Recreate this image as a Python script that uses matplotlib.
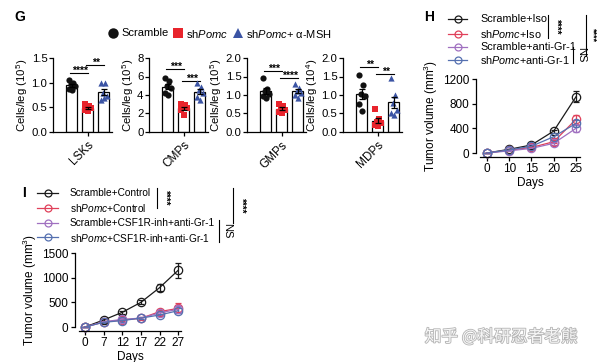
import matplotlib
matplotlib.use('Agg')
import matplotlib.pyplot as plt
import numpy as np
import matplotlib.patheffects as pe

plt.rcParams['font.family'] = ['Liberation Sans', 'DejaVu Sans']
plt.rcParams['mathtext.fontset'] = 'custom'
plt.rcParams['mathtext.rm'] = 'Liberation Sans'
plt.rcParams['mathtext.it'] = 'Liberation Sans:italic'
plt.rcParams['mathtext.bf'] = 'Liberation Sans:bold'
plt.rcParams['axes.linewidth'] = 0.9
plt.rcParams['xtick.major.width'] = 0.9
plt.rcParams['ytick.major.width'] = 0.9
plt.rcParams['xtick.major.size'] = 3
plt.rcParams['ytick.major.size'] = 3

# ---------------- data ----------------
g_groups = ['Scramble', 'sh$\\mathit{Pomc}$', 'sh$\\mathit{Pomc}$+ α-MSH']
g_colors = ['#111111', '#e8242c', '#3b54a4']
g_markers = ['o', 's', '^']

populations = ['LSKs', 'CMPs', 'GMPs', 'MDPs']
units = ['5', '5', '5', '4']
ymaxes = [1.5, 8, 2.0, 2.0]
yticks = [[0, 0.5, 1.0, 1.5], [0, 2, 4, 6, 8], [0, 0.5, 1.0, 1.5, 2.0], [0, 0.5, 1.0, 1.5, 2.0]]
ytick_labels = [['0.0', '0.5', '1.0', '1.5'], ['0', '2', '4', '6', '8'],
                ['0.0', '0.5', '1.0', '1.5', '2.0'], ['0.0', '0.5', '1.0', '1.5', '2.0']]

lsk_scramble = [1.05, 1.00, 0.98, 0.93, 0.87, 0.85]
lsk_shpomc = [0.56, 0.53, 0.50, 0.48, 0.45, 0.42]
lsk_msh = [1.00, 1.00, 0.80, 0.72, 0.65, 0.68]
cmp_scramble = [5.8, 5.5, 5.0, 4.8, 4.2, 4.0]
cmp_shpomc = [3.0, 2.9, 2.7, 2.6, 2.4, 1.8]
cmp_msh = [5.3, 4.9, 4.5, 4.2, 3.8, 3.5]
gmp_scramble = [1.47, 1.15, 1.10, 1.03, 0.98, 0.92]
gmp_shpomc = [0.75, 0.70, 0.66, 0.60, 0.55, 0.50]
gmp_msh = [1.30, 1.20, 1.12, 1.05, 1.00, 0.92]
mdp_scramble = [1.55, 1.28, 1.02, 0.98, 0.75, 0.58]
mdp_shpomc = [0.62, 0.35, 0.28, 0.25, 0.20, 0.15]
mdp_msh = [1.45, 1.00, 0.78, 0.60, 0.50, 0.47]

bar_data = [[lsk_scramble, lsk_shpomc, lsk_msh],
            [cmp_scramble, cmp_shpomc, cmp_msh],
            [gmp_scramble, gmp_shpomc, gmp_msh],
            [mdp_scramble, mdp_shpomc, mdp_msh]]
# significance: (bar a, bar b, y level, label)
sig_g = [[(0, 1, 1.19, '****'), (1, 2, 1.36, '**')],
         [(0, 1, 6.78, '***'), (1, 2, 5.55, '***')],
         [(0, 1, 1.65, '***'), (1, 2, 1.47, '****')],
         [(0, 1, 1.75, '**'), (1, 2, 1.56, '**')]]

line_labels_h = ['Scramble+Iso', 'sh$\\mathit{Pomc}$+Iso', 'Scramble+anti-Gr-1', 'sh$\\mathit{Pomc}$+anti-Gr-1']
line_labels_i = ['Scramble+Control', 'sh$\\mathit{Pomc}$+Control', 'Scramble+CSF1R-inh+anti-Gr-1',
                 'sh$\\mathit{Pomc}$+CSF1R-inh+anti-Gr-1']
line_colors = ['#1a1a1a', '#e0405a', '#a070c0', '#5570b0']

h_days = ['0', '10', '15', '20', '25']
h_scr_iso = [0, 60, 130, 356, 912]
h_scr_iso_err = [5, 10, 15, 25, 90]
h_sh_iso = [0, 45, 90, 183, 546]
h_sh_iso_err = [4, 8, 12, 20, 70]
h_scr_gr1 = [0, 35, 75, 157, 400]
h_scr_gr1_err = [4, 6, 10, 20, 55]
h_sh_gr1 = [0, 50, 110, 264, 480]
h_sh_gr1_err = [4, 8, 12, 25, 60]

i_days = ['0', '7', '12', '17', '22', '27']
i_scr_ctrl = [0, 142, 298, 500, 797, 1150]
i_scr_ctrl_err = [5, 20, 30, 40, 70, 150]
i_sh_ctrl = [0, 100, 142, 176, 311, 378]
i_sh_ctrl_err = [5, 20, 25, 25, 40, 100]
i_scr_csf = [0, 105, 155, 180, 285, 360]
i_scr_csf_err = [5, 15, 20, 25, 35, 60]
i_sh_csf = [0, 95, 130, 180, 243, 331]
i_sh_csf_err = [5, 15, 20, 20, 30, 45]

# ---------------- figure ----------------
W, H = 600, 362
fig = plt.figure(figsize=(6, 3.62), dpi=100)


def ax_px(l, t, r, b):
    return fig.add_axes([l / W, 1 - b / H, (r - l) / W, (b - t) / H])


FS = 8
jitter = [-0.2, 0.12, -0.06, 0.22, -0.16, 0.05]

axis_lefts = [53, 149, 247, 343]
for k in range(4):
    L = axis_lefts[k]
    ax = ax_px(L, 58, L + 58.6, 132)
    means = [np.mean(d) for d in bar_data[k]]
    sems = [np.std(d, ddof=1) / np.sqrt(len(d)) for d in bar_data[k]]
    xs = np.arange(3)
    ax.bar(xs, means, width=0.69, color='white', edgecolor='black', linewidth=0.9, zorder=1)
    for j in range(3):
        ax.scatter(xs[j] + np.array(jitter) * 0.9, bar_data[k][j], s=20, marker=g_markers[j],
                   color=g_colors[j], zorder=3, linewidths=0, clip_on=False)
        ax.errorbar(xs[j], means[j], yerr=sems[j], color='black', capsize=2.2, elinewidth=0.9,
                    capthick=0.9, zorder=4)
    for (a, b, y, lab) in sig_g[k]:
        ax.plot([xs[a] - 0.1, xs[b] + 0.05], [y, y], color='black', lw=0.8, clip_on=False)
        ax.text((xs[a] + xs[b]) / 2, y - ymaxes[k] * 0.04, lab, ha='center', va='bottom',
                fontsize=7.5, fontweight='bold', clip_on=False)
    ax.set_xlim(-1.16, 2.5)
    ax.set_ylim(0, ymaxes[k])
    ax.set_yticks(yticks[k])
    ax.set_yticklabels(ytick_labels[k], fontsize=8.2)
    ax.set_xticks([1])
    ax.set_xticklabels([populations[k]], rotation=45, ha='right', rotation_mode='anchor', fontsize=8.5)
    ax.tick_params(axis='x', pad=2)
    ax.tick_params(axis='y', pad=1)
    ax.spines['top'].set_visible(False)
    ax.spines['right'].set_visible(False)
    ax.set_ylabel('Cells/leg (10$^{%s}$)' % units[k], fontsize=8.2, labelpad=1)


def line_panel(ax, days, series, errs, ymax, yt):
    xs = np.arange(len(days))
    for s, e, c in zip(series, errs, line_colors):
        ax.errorbar(xs, s, yerr=e, color=c, lw=0.9, marker='o', ms=6, mfc='none', mec=c,
                    mew=0.9, capsize=2, elinewidth=0.9, capthick=0.9, clip_on=False)
    ax.set_ylim(0, ymax)
    ax.set_yticks(yt)
    ax.set_xticks(xs)
    ax.set_xticklabels(days)
    ax.tick_params(labelsize=8.5, pad=1.5)
    ax.spines['top'].set_visible(False)
    ax.spines['right'].set_visible(False)
    ax.spines['left'].set_position(('outward', 3))
    ax.spines['bottom'].set_position(('outward', 3))
    ax.set_xlabel('Days', fontsize=8.5, labelpad=1)
    ax.set_ylabel('Tumor volume (mm$^3$)', fontsize=8.5, labelpad=2)


axh = ax_px(480, 79, 580, 153)
line_panel(axh, h_days, [h_scr_iso, h_sh_iso, h_scr_gr1, h_sh_gr1],
           [h_scr_iso_err, h_sh_iso_err, h_scr_gr1_err, h_sh_gr1_err], 1200, [0, 400, 800, 1200])
axh.set_xlim(-0.31, 4.18)

axi = ax_px(79, 253, 181, 327)
line_panel(axi, i_days, [i_scr_ctrl, i_sh_ctrl, i_scr_csf, i_sh_csf],
           [i_scr_ctrl_err, i_sh_ctrl_err, i_scr_csf_err, i_sh_csf_err], 1500, [0, 500, 1000, 1500])
axi.set_xlim(-0.32, 5.15)

# ---------------- overlay annotations (pixel coordinates) ----------------
ov = fig.add_axes([0, 0, 1, 1])
ov.set_xlim(0, W)
ov.set_ylim(H, 0)
ov.axis('off')
ov.patch.set_alpha(0)

ov.text(14, 17, 'G', fontsize=10, fontweight='bold', va='center', ha='left')
ov.text(424, 17, 'H', fontsize=10, fontweight='bold', va='center', ha='left')
ov.text(22, 193, 'I', fontsize=10, fontweight='bold', va='center', ha='left')

# G legend
leg_x = [113, 178, 238]
for x, lab, c, m in zip(leg_x, g_groups, g_colors, g_markers):
    ov.plot([x], [33], marker=m, color=c, ms=7.5 if m != '^' else 7, mew=0, ls='none')
    ov.text(x + 8, 33.5, lab, fontsize=FS, va='center', ha='left')


def line_legend(x0, x1, xt, ys, labels, fs):
    for y, lab, c in zip(ys, labels, line_colors):
        ov.plot([x0, x1], [y, y], color=c, lw=0.9)
        ov.plot([(x0 + x1) / 2], [y], marker='o', ms=5, mfc='none', mec=c, mew=0.9)
        ov.text(xt, y + 0.5, lab, fontsize=fs, va='center', ha='left')


def sig_line(x, y0, y1, lab, fs=7, dx=3):
    ov.plot([x, x], [y0, y1], color='black', lw=0.8)
    ov.text(x + dx, (y0 + y1) / 2, lab, rotation=270, fontsize=fs, va='center', ha='left',
            fontweight='bold' if lab.startswith('*') else 'normal')


line_legend(448, 467, 480, [19, 34, 47, 60], line_labels_h, 7.8)
sig_line(548, 15, 38, '****')
sig_line(573, 47, 63, 'NS', fs=8)
sig_line(586, 15, 55, '****', fs=6.5, dx=2)

line_legend(37, 58, 70, [193, 208, 223, 237], line_labels_i, 7.3)
sig_line(157, 188, 208, '****')
sig_line(219, 220, 242, 'NS', fs=8)
sig_line(233, 188, 223, '****')

# watermark
ov.text(501, 337, '知乎 @科研忍者老熊', fontsize=12, color='#f6f6f6', ha='center', va='center',
        family=['Noto Sans CJK SC', 'DejaVu Sans'],
        path_effects=[pe.withStroke(linewidth=1.2, foreground='#b4b4b4')])

fig.savefig('out.png', dpi=100)
